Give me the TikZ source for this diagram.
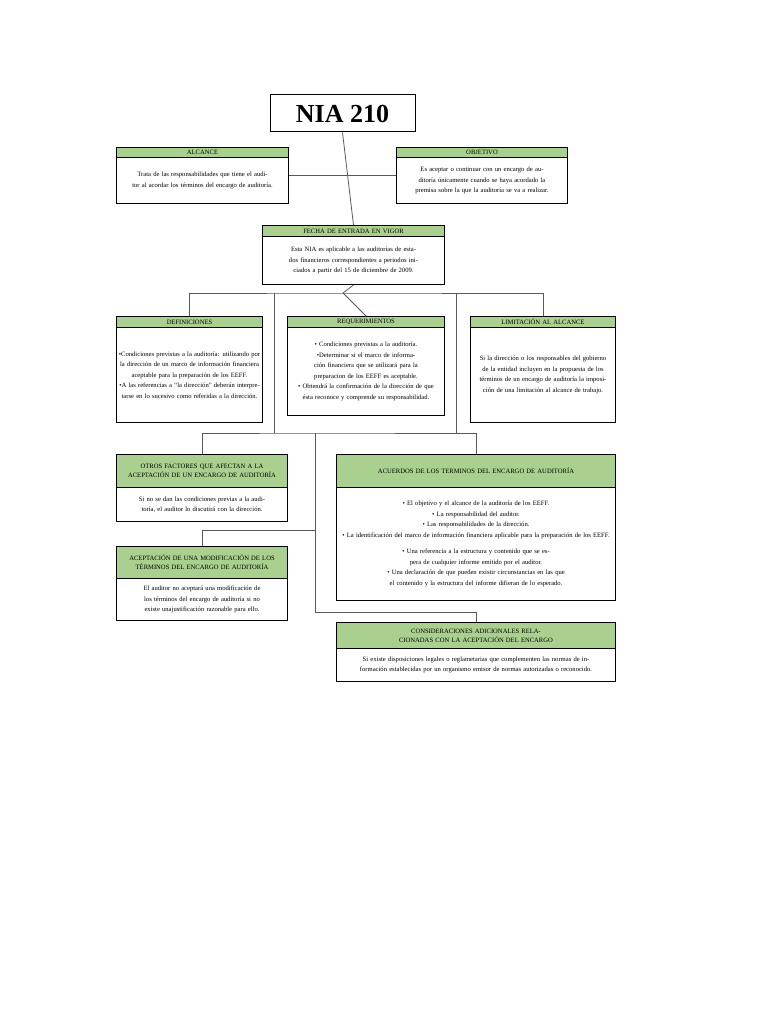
\documentclass[tikz,border=0pt]{standalone}
\usepackage{fontspec}
\setmainfont{Liberation Serif}
\definecolor{hg}{HTML}{A9D08E}
\begin{document}
\begin{tikzpicture}[x=1pt,y=-1pt,
  hdr/.style={draw=black,line width=1pt,fill=hg,inner sep=1pt,align=center,font=\fontsize{6.6}{9}\selectfont,anchor=north west},
  bdy/.style={draw=black,line width=1pt,fill=white,inner sep=1pt,align=center,font=\fontsize{6.6}{10.5}\selectfont,anchor=north west},
  ln/.style={draw=black!65,line width=0.8pt}]
\useasboundingbox (0,0) rectangle (768,1024);
\newcommand{\bx}[8]{% name x y w hh bh headtext bodytext
  \node[bdy,minimum width=#4,minimum height=#6,text width=#4-4] (#1b) at (#2,#3+#5) {#8};
  \node[hdr,minimum width=#4,minimum height=#5,text width=#4-4] (#1) at (#2,#3) {#7};}
\node[draw=black,line width=1pt,minimum width=145,minimum height=37,font=\fontsize{26}{26}\selectfont\bfseries] (nia) at (342.5,113.5) {NIA 210};
\bx{alc}{116}{147}{172}{10}{46}{ALCANCE}{Trata de las responsabilidades que tiene el auditor al acordar los términos del encargo de auditoría.}
\bx{obj}{396}{147}{171}{10}{46}{OBJETIVO}{Es aceptar o continuar con un encargo de auditoría únicamente cuando se haya acordado la premisa sobre la que la auditoría se va a realizar.}
\bx{fec}{262}{225}{182}{11}{48}{FECHA DE ENTRADA EN VIGOR}{Esta NIA es aplicable a las auditorías de estados financieros correspondientes a periodos iniciados a partir del 15 de diciembre de 2009.}
\bx{def}{116}{316}{146}{11}{95}{DEFINICIONES}{•Condiciones previstas a la auditoría: utilizando por la dirección de un marco de información financiera aceptable para la preparación de los EEFF.\\•A las referencias a ``la dirección'' deberán interpretarse en lo sucesivo como referidas a la dirección.}
\bx{req}{287}{316}{157}{11}{88}{REQUERIMIENTOS}{• Condiciones previstas a la auditoría.\\•Determinar si el marco de información financiera que se utilizará para la preparacion de los EEFF es aceptable.\\• Obtendrá la confirmación de la dirección de que ésta reconoce y comprende su responsabilidad.}
\bx{lim}{470}{316}{145}{11}{95}{LIMITACIÓN AL ALCANCE}{Si la dirección o los responsables del gobierno de la entidad incluyen en la propuesta de los términos de un encargo de auditoría la imposición de una limitación al alcance de trabajo.}
\bx{otr}{116}{454}{171}{33}{34}{OTROS FACTORES QUE AFECTAN A LA ACEPTACIÓN DE UN ENCARGO DE AUDITORÍA}{Si no se dan las condiciones previas a la auditoría, el auditor lo discutirá con la dirección.}
\bx{acu}{336}{454}{279}{33}{113}{ACUERDOS DE LOS TERMINOS DEL ENCARGO DE AUDITORÍA}{• El objetivo y el alcance de la auditoría de los EEFF.\\• La responsabilidad del auditor.\\• Las responsabilidades de la dirección.\\• La identificación del marco de información financiera aplicable para la preparación de los EEFF.\\[6pt]• Una referencia a la estructura y contenido que se espera de cualquier informe emitido por el auditor.\\• Una declaración de que pueden existir circunstancias en las que el contenido y la estructura del informe difieran de lo esperado.}
\bx{ace}{116}{546}{171}{32}{42}{ACEPTACIÓN DE UNA MODIFICACIÓN DE LOS TÉRMINOS DEL ENCARGO DE AUDITORÍA}{El auditor no aceptará una modificación de los términos del encargo de auditoría si no existe unajustificación razonable para ello.}
\bx{con}{336}{622}{279}{26}{33}{CONSIDERACIONES ADICIONALES RELACIONADAS CON LA ACEPTACIÓN DEL ENCARGO}{Si existe disposiciones legales o reglametarias que complementen las normas de información establecidas por un organismo emisor de normas autorizadas o reconocido.}
% connectors
\coordinate (j1) at (343,175);
\draw[ln] (nia.south) -- (fec.north);
\draw[ln] (alcb.east|-j1) -- (objb.west|-j1);
\coordinate (t) at (343,293);
\draw[ln] (fecb.south) -- (t);
\draw[ln] (def.north) |- (t) -| (lim.north);
\draw[ln] (t) -- (req.north);
\coordinate (b) at (315,433);
\coordinate (va) at (274,293); \coordinate (vb) at (456,293);
\coordinate (vc) at (274,433); \coordinate (vd) at (456,433);
\draw[ln] (va) -- (vc); \draw[ln] (vb) -- (vd);
\draw[ln] (otr.north) |- (b) -| (acu.north);
\coordinate (m) at (315,530); \coordinate (n) at (315,612);
\draw[ln] (b) -- (n) -| (con.north);
\draw[ln] (m) -| (ace.north);
\end{tikzpicture}
\end{document}
